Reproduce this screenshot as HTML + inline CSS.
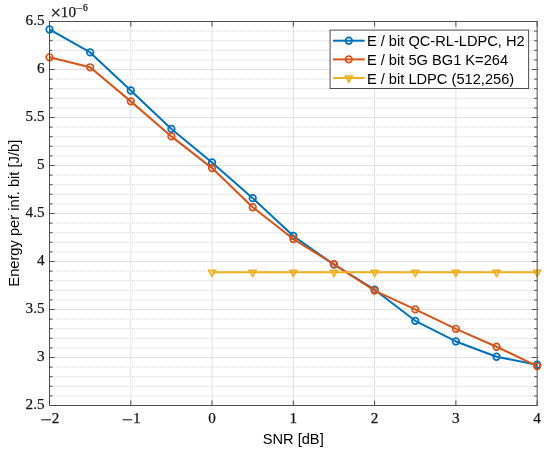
<!DOCTYPE html>
<html><head><meta charset="utf-8"><style>
html,body{margin:0;padding:0;background:#fff;}
body{width:550px;height:454px;overflow:hidden;}
svg{display:block;}
.m{font-family:"Liberation Serif",serif;font-size:15.2px;fill:#141414;stroke:#141414;stroke-width:0.25px;}
.s{font-family:"Liberation Sans",sans-serif;font-size:14.65px;fill:#000;}
</style></head><body>
<svg width="550" height="454" viewBox="0 0 550 454">
<rect width="550" height="454" fill="#fff"/>
<g><line x1="50" y1="395.9" x2="537.15" y2="395.9" stroke="#d6d6d6" stroke-width="1" stroke-dasharray="1 1"/><line x1="50" y1="386.3" x2="537.15" y2="386.3" stroke="#d6d6d6" stroke-width="1" stroke-dasharray="1 1"/><line x1="50" y1="376.7" x2="537.15" y2="376.7" stroke="#d6d6d6" stroke-width="1" stroke-dasharray="1 1"/><line x1="50" y1="367.1" x2="537.15" y2="367.1" stroke="#d6d6d6" stroke-width="1" stroke-dasharray="1 1"/><line x1="50" y1="347.9" x2="537.15" y2="347.9" stroke="#d6d6d6" stroke-width="1" stroke-dasharray="1 1"/><line x1="50" y1="338.3" x2="537.15" y2="338.3" stroke="#d6d6d6" stroke-width="1" stroke-dasharray="1 1"/><line x1="50" y1="328.7" x2="537.15" y2="328.7" stroke="#d6d6d6" stroke-width="1" stroke-dasharray="1 1"/><line x1="50" y1="319.1" x2="537.15" y2="319.1" stroke="#d6d6d6" stroke-width="1" stroke-dasharray="1 1"/><line x1="50" y1="299.9" x2="537.15" y2="299.9" stroke="#d6d6d6" stroke-width="1" stroke-dasharray="1 1"/><line x1="50" y1="290.3" x2="537.15" y2="290.3" stroke="#d6d6d6" stroke-width="1" stroke-dasharray="1 1"/><line x1="50" y1="280.7" x2="537.15" y2="280.7" stroke="#d6d6d6" stroke-width="1" stroke-dasharray="1 1"/><line x1="50" y1="271.1" x2="537.15" y2="271.1" stroke="#d6d6d6" stroke-width="1" stroke-dasharray="1 1"/><line x1="50" y1="251.9" x2="537.15" y2="251.9" stroke="#d6d6d6" stroke-width="1" stroke-dasharray="1 1"/><line x1="50" y1="242.3" x2="537.15" y2="242.3" stroke="#d6d6d6" stroke-width="1" stroke-dasharray="1 1"/><line x1="50" y1="232.7" x2="537.15" y2="232.7" stroke="#d6d6d6" stroke-width="1" stroke-dasharray="1 1"/><line x1="50" y1="223.1" x2="537.15" y2="223.1" stroke="#d6d6d6" stroke-width="1" stroke-dasharray="1 1"/><line x1="50" y1="203.9" x2="537.15" y2="203.9" stroke="#d6d6d6" stroke-width="1" stroke-dasharray="1 1"/><line x1="50" y1="194.3" x2="537.15" y2="194.3" stroke="#d6d6d6" stroke-width="1" stroke-dasharray="1 1"/><line x1="50" y1="184.7" x2="537.15" y2="184.7" stroke="#d6d6d6" stroke-width="1" stroke-dasharray="1 1"/><line x1="50" y1="175.1" x2="537.15" y2="175.1" stroke="#d6d6d6" stroke-width="1" stroke-dasharray="1 1"/><line x1="50" y1="155.9" x2="537.15" y2="155.9" stroke="#d6d6d6" stroke-width="1" stroke-dasharray="1 1"/><line x1="50" y1="146.3" x2="537.15" y2="146.3" stroke="#d6d6d6" stroke-width="1" stroke-dasharray="1 1"/><line x1="50" y1="136.7" x2="537.15" y2="136.7" stroke="#d6d6d6" stroke-width="1" stroke-dasharray="1 1"/><line x1="50" y1="127.1" x2="537.15" y2="127.1" stroke="#d6d6d6" stroke-width="1" stroke-dasharray="1 1"/><line x1="50" y1="107.9" x2="537.15" y2="107.9" stroke="#d6d6d6" stroke-width="1" stroke-dasharray="1 1"/><line x1="50" y1="98.3" x2="537.15" y2="98.3" stroke="#d6d6d6" stroke-width="1" stroke-dasharray="1 1"/><line x1="50" y1="88.7" x2="537.15" y2="88.7" stroke="#d6d6d6" stroke-width="1" stroke-dasharray="1 1"/><line x1="50" y1="79.1" x2="537.15" y2="79.1" stroke="#d6d6d6" stroke-width="1" stroke-dasharray="1 1"/><line x1="50" y1="59.9" x2="537.15" y2="59.9" stroke="#d6d6d6" stroke-width="1" stroke-dasharray="1 1"/><line x1="50" y1="50.3" x2="537.15" y2="50.3" stroke="#d6d6d6" stroke-width="1" stroke-dasharray="1 1"/><line x1="50" y1="40.7" x2="537.15" y2="40.7" stroke="#d6d6d6" stroke-width="1" stroke-dasharray="1 1"/><line x1="50" y1="31.1" x2="537.15" y2="31.1" stroke="#d6d6d6" stroke-width="1" stroke-dasharray="1 1"/><line x1="49.5" y1="357.5" x2="537.15" y2="357.5" stroke="#e0e0e0" stroke-width="1"/><line x1="49.5" y1="309.5" x2="537.15" y2="309.5" stroke="#e0e0e0" stroke-width="1"/><line x1="49.5" y1="261.5" x2="537.15" y2="261.5" stroke="#e0e0e0" stroke-width="1"/><line x1="49.5" y1="213.5" x2="537.15" y2="213.5" stroke="#e0e0e0" stroke-width="1"/><line x1="49.5" y1="165.5" x2="537.15" y2="165.5" stroke="#e0e0e0" stroke-width="1"/><line x1="49.5" y1="117.5" x2="537.15" y2="117.5" stroke="#e0e0e0" stroke-width="1"/><line x1="49.5" y1="69.5" x2="537.15" y2="69.5" stroke="#e0e0e0" stroke-width="1"/><line x1="130.77" y1="21.5" x2="130.77" y2="405.5" stroke="#e0e0e0" stroke-width="1"/><line x1="212.05" y1="21.5" x2="212.05" y2="405.5" stroke="#e0e0e0" stroke-width="1"/><line x1="293.32" y1="21.5" x2="293.32" y2="405.5" stroke="#e0e0e0" stroke-width="1"/><line x1="374.6" y1="21.5" x2="374.6" y2="405.5" stroke="#e0e0e0" stroke-width="1"/><line x1="455.88" y1="21.5" x2="455.88" y2="405.5" stroke="#e0e0e0" stroke-width="1"/></g>
<path d="M49.5 405.5h5M537.15 405.5h-5M49.5 395.9h3M537.15 395.9h-3M49.5 386.3h3M537.15 386.3h-3M49.5 376.7h3M537.15 376.7h-3M49.5 367.1h3M537.15 367.1h-3M49.5 357.5h5M537.15 357.5h-5M49.5 347.9h3M537.15 347.9h-3M49.5 338.3h3M537.15 338.3h-3M49.5 328.7h3M537.15 328.7h-3M49.5 319.1h3M537.15 319.1h-3M49.5 309.5h5M537.15 309.5h-5M49.5 299.9h3M537.15 299.9h-3M49.5 290.3h3M537.15 290.3h-3M49.5 280.7h3M537.15 280.7h-3M49.5 271.1h3M537.15 271.1h-3M49.5 261.5h5M537.15 261.5h-5M49.5 251.9h3M537.15 251.9h-3M49.5 242.3h3M537.15 242.3h-3M49.5 232.7h3M537.15 232.7h-3M49.5 223.1h3M537.15 223.1h-3M49.5 213.5h5M537.15 213.5h-5M49.5 203.9h3M537.15 203.9h-3M49.5 194.3h3M537.15 194.3h-3M49.5 184.7h3M537.15 184.7h-3M49.5 175.1h3M537.15 175.1h-3M49.5 165.5h5M537.15 165.5h-5M49.5 155.9h3M537.15 155.9h-3M49.5 146.3h3M537.15 146.3h-3M49.5 136.7h3M537.15 136.7h-3M49.5 127.1h3M537.15 127.1h-3M49.5 117.5h5M537.15 117.5h-5M49.5 107.9h3M537.15 107.9h-3M49.5 98.3h3M537.15 98.3h-3M49.5 88.7h3M537.15 88.7h-3M49.5 79.1h3M537.15 79.1h-3M49.5 69.5h5M537.15 69.5h-5M49.5 59.9h3M537.15 59.9h-3M49.5 50.3h3M537.15 50.3h-3M49.5 40.7h3M537.15 40.7h-3M49.5 31.1h3M537.15 31.1h-3M49.5 21.5h5M537.15 21.5h-5M49.5 405.5v-5M49.5 21.5v5M130.77 405.5v-5M130.77 21.5v5M212.05 405.5v-5M212.05 21.5v5M293.32 405.5v-5M293.32 21.5v5M374.6 405.5v-5M374.6 21.5v5M455.88 405.5v-5M455.88 21.5v5M537.15 405.5v-5M537.15 21.5v5" stroke="#4d4d4d" stroke-width="1" fill="none"/>
<polyline points="49.5,29.47 90.14,52.41 130.77,90.52 171.41,128.92 212.05,162.52 252.69,198.14 293.32,235.96 333.96,264.57 374.6,289.72 415.24,320.83 455.88,341.47 496.51,356.73 537.15,364.7" fill="none" stroke="#0072bd" stroke-width="2.0" stroke-linejoin="round"/><circle cx="49.5" cy="29.47" r="3.3" fill="none" stroke="#0072bd" stroke-width="1.7"/><circle cx="90.14" cy="52.41" r="3.3" fill="none" stroke="#0072bd" stroke-width="1.7"/><circle cx="130.77" cy="90.52" r="3.3" fill="none" stroke="#0072bd" stroke-width="1.7"/><circle cx="171.41" cy="128.92" r="3.3" fill="none" stroke="#0072bd" stroke-width="1.7"/><circle cx="212.05" cy="162.52" r="3.3" fill="none" stroke="#0072bd" stroke-width="1.7"/><circle cx="252.69" cy="198.14" r="3.3" fill="none" stroke="#0072bd" stroke-width="1.7"/><circle cx="293.32" cy="235.96" r="3.3" fill="none" stroke="#0072bd" stroke-width="1.7"/><circle cx="333.96" cy="264.57" r="3.3" fill="none" stroke="#0072bd" stroke-width="1.7"/><circle cx="374.6" cy="289.72" r="3.3" fill="none" stroke="#0072bd" stroke-width="1.7"/><circle cx="415.24" cy="320.83" r="3.3" fill="none" stroke="#0072bd" stroke-width="1.7"/><circle cx="455.88" cy="341.47" r="3.3" fill="none" stroke="#0072bd" stroke-width="1.7"/><circle cx="496.51" cy="356.73" r="3.3" fill="none" stroke="#0072bd" stroke-width="1.7"/><circle cx="537.15" cy="364.7" r="3.3" fill="none" stroke="#0072bd" stroke-width="1.7"/>
<polyline points="49.5,57.31 90.14,67.29 130.77,101.37 171.41,136.41 212.05,168.09 252.69,207.26 293.32,239.04 333.96,264.19 374.6,290.59 415.24,309.4 455.88,328.8 496.51,346.75 537.15,366.04" fill="none" stroke="#d95319" stroke-width="2.0" stroke-linejoin="round"/><circle cx="49.5" cy="57.31" r="3.3" fill="none" stroke="#d95319" stroke-width="1.7"/><circle cx="90.14" cy="67.29" r="3.3" fill="none" stroke="#d95319" stroke-width="1.7"/><circle cx="130.77" cy="101.37" r="3.3" fill="none" stroke="#d95319" stroke-width="1.7"/><circle cx="171.41" cy="136.41" r="3.3" fill="none" stroke="#d95319" stroke-width="1.7"/><circle cx="212.05" cy="168.09" r="3.3" fill="none" stroke="#d95319" stroke-width="1.7"/><circle cx="252.69" cy="207.26" r="3.3" fill="none" stroke="#d95319" stroke-width="1.7"/><circle cx="293.32" cy="239.04" r="3.3" fill="none" stroke="#d95319" stroke-width="1.7"/><circle cx="333.96" cy="264.19" r="3.3" fill="none" stroke="#d95319" stroke-width="1.7"/><circle cx="374.6" cy="290.59" r="3.3" fill="none" stroke="#d95319" stroke-width="1.7"/><circle cx="415.24" cy="309.4" r="3.3" fill="none" stroke="#d95319" stroke-width="1.7"/><circle cx="455.88" cy="328.8" r="3.3" fill="none" stroke="#d95319" stroke-width="1.7"/><circle cx="496.51" cy="346.75" r="3.3" fill="none" stroke="#d95319" stroke-width="1.7"/><circle cx="537.15" cy="366.04" r="3.3" fill="none" stroke="#d95319" stroke-width="1.7"/>
<polyline points="212.05,272.3 252.69,272.3 293.32,272.3 333.96,272.3 374.6,272.3 415.24,272.3 455.88,272.3 496.51,272.3 537.15,272.3" fill="none" stroke="#edb120" stroke-width="2.0" stroke-linejoin="round"/><path d="M208.65 270.3H215.45L212.05 276.3Z" fill="none" stroke="#edb120" stroke-width="1.7" stroke-linejoin="miter"/><path d="M249.29 270.3H256.09L252.69 276.3Z" fill="none" stroke="#edb120" stroke-width="1.7" stroke-linejoin="miter"/><path d="M289.92 270.3H296.72L293.32 276.3Z" fill="none" stroke="#edb120" stroke-width="1.7" stroke-linejoin="miter"/><path d="M330.56 270.3H337.36L333.96 276.3Z" fill="none" stroke="#edb120" stroke-width="1.7" stroke-linejoin="miter"/><path d="M371.2 270.3H378L374.6 276.3Z" fill="none" stroke="#edb120" stroke-width="1.7" stroke-linejoin="miter"/><path d="M411.84 270.3H418.64L415.24 276.3Z" fill="none" stroke="#edb120" stroke-width="1.7" stroke-linejoin="miter"/><path d="M452.48 270.3H459.27L455.88 276.3Z" fill="none" stroke="#edb120" stroke-width="1.7" stroke-linejoin="miter"/><path d="M493.11 270.3H499.91L496.51 276.3Z" fill="none" stroke="#edb120" stroke-width="1.7" stroke-linejoin="miter"/><path d="M533.75 270.3H540.55L537.15 276.3Z" fill="none" stroke="#edb120" stroke-width="1.7" stroke-linejoin="miter"/>
<rect x="49.5" y="21.5" width="487.65" height="384" fill="none" stroke="#4d4d4d" stroke-width="1"/>
<rect x="330.1" y="30.1" width="198.5" height="58.4" fill="#fff" stroke="#4d4d4d" stroke-width="1"/>
<line x1="333" y1="40.7" x2="364.7" y2="40.7" stroke="#0072bd" stroke-width="2.0"/>
<circle cx="348.8" cy="40.7" r="3.3" fill="none" stroke="#0072bd" stroke-width="1.7"/>
<text x="366.9" y="46.2" class="s">E / bit QC-RL-LDPC, H2</text>
<line x1="333" y1="59.4" x2="364.7" y2="59.4" stroke="#d95319" stroke-width="2.0"/>
<circle cx="348.8" cy="59.4" r="3.3" fill="none" stroke="#d95319" stroke-width="1.7"/>
<text x="366.9" y="64.9" class="s">E / bit 5G BG1 K=264</text>
<line x1="333" y1="78.0" x2="364.7" y2="78.0" stroke="#edb120" stroke-width="2.0"/>
<path d="M345.4 76H352.2L348.8 82Z" fill="none" stroke="#edb120" stroke-width="1.7" stroke-linejoin="miter"/>
<text x="366.9" y="83.5" class="s">E / bit LDPC (512,256)</text>
<text x="44.6" y="409.2" text-anchor="end" class="m">2.5</text><text x="44.6" y="361.2" text-anchor="end" class="m">3</text><text x="44.6" y="313.2" text-anchor="end" class="m">3.5</text><text x="44.6" y="265.2" text-anchor="end" class="m">4</text><text x="44.6" y="217.2" text-anchor="end" class="m">4.5</text><text x="44.6" y="169.2" text-anchor="end" class="m">5</text><text x="44.6" y="121.2" text-anchor="end" class="m">5.5</text><text x="44.6" y="73.2" text-anchor="end" class="m">6</text><text x="44.6" y="25.2" text-anchor="end" class="m">6.5</text>
<text transform="translate(40.5 425.1) scale(1.3 1)" class="m">−</text><text x="51.7" y="422.9" class="m">2</text><text transform="translate(121.77 425.1) scale(1.3 1)" class="m">−</text><text x="132.97" y="422.9" class="m">1</text><text x="212.05" y="422.8" text-anchor="middle" class="m">0</text><text x="293.32" y="422.8" text-anchor="middle" class="m">1</text><text x="374.6" y="422.8" text-anchor="middle" class="m">2</text><text x="455.88" y="422.8" text-anchor="middle" class="m">3</text><text x="537.15" y="422.8" text-anchor="middle" class="m">4</text>
<text x="50.4" y="18.8" class="m" style="font-size:18.5px">×</text>
<text x="60.8" y="16.5" class="m">10</text>
<text transform="translate(75.1 11.7) scale(1.45 1)" class="m" style="font-size:9.5px">−</text>
<text x="83" y="11.4" class="m" style="font-size:9.5px">6</text>
<text x="293.2" y="443.9" text-anchor="middle" class="s">SNR [dB]</text>
<text transform="translate(18.7 213.2) rotate(-90)" text-anchor="middle" class="s" style="font-size:14.7px">Energy per inf. bit [J/b]</text>
</svg>
</body></html>
